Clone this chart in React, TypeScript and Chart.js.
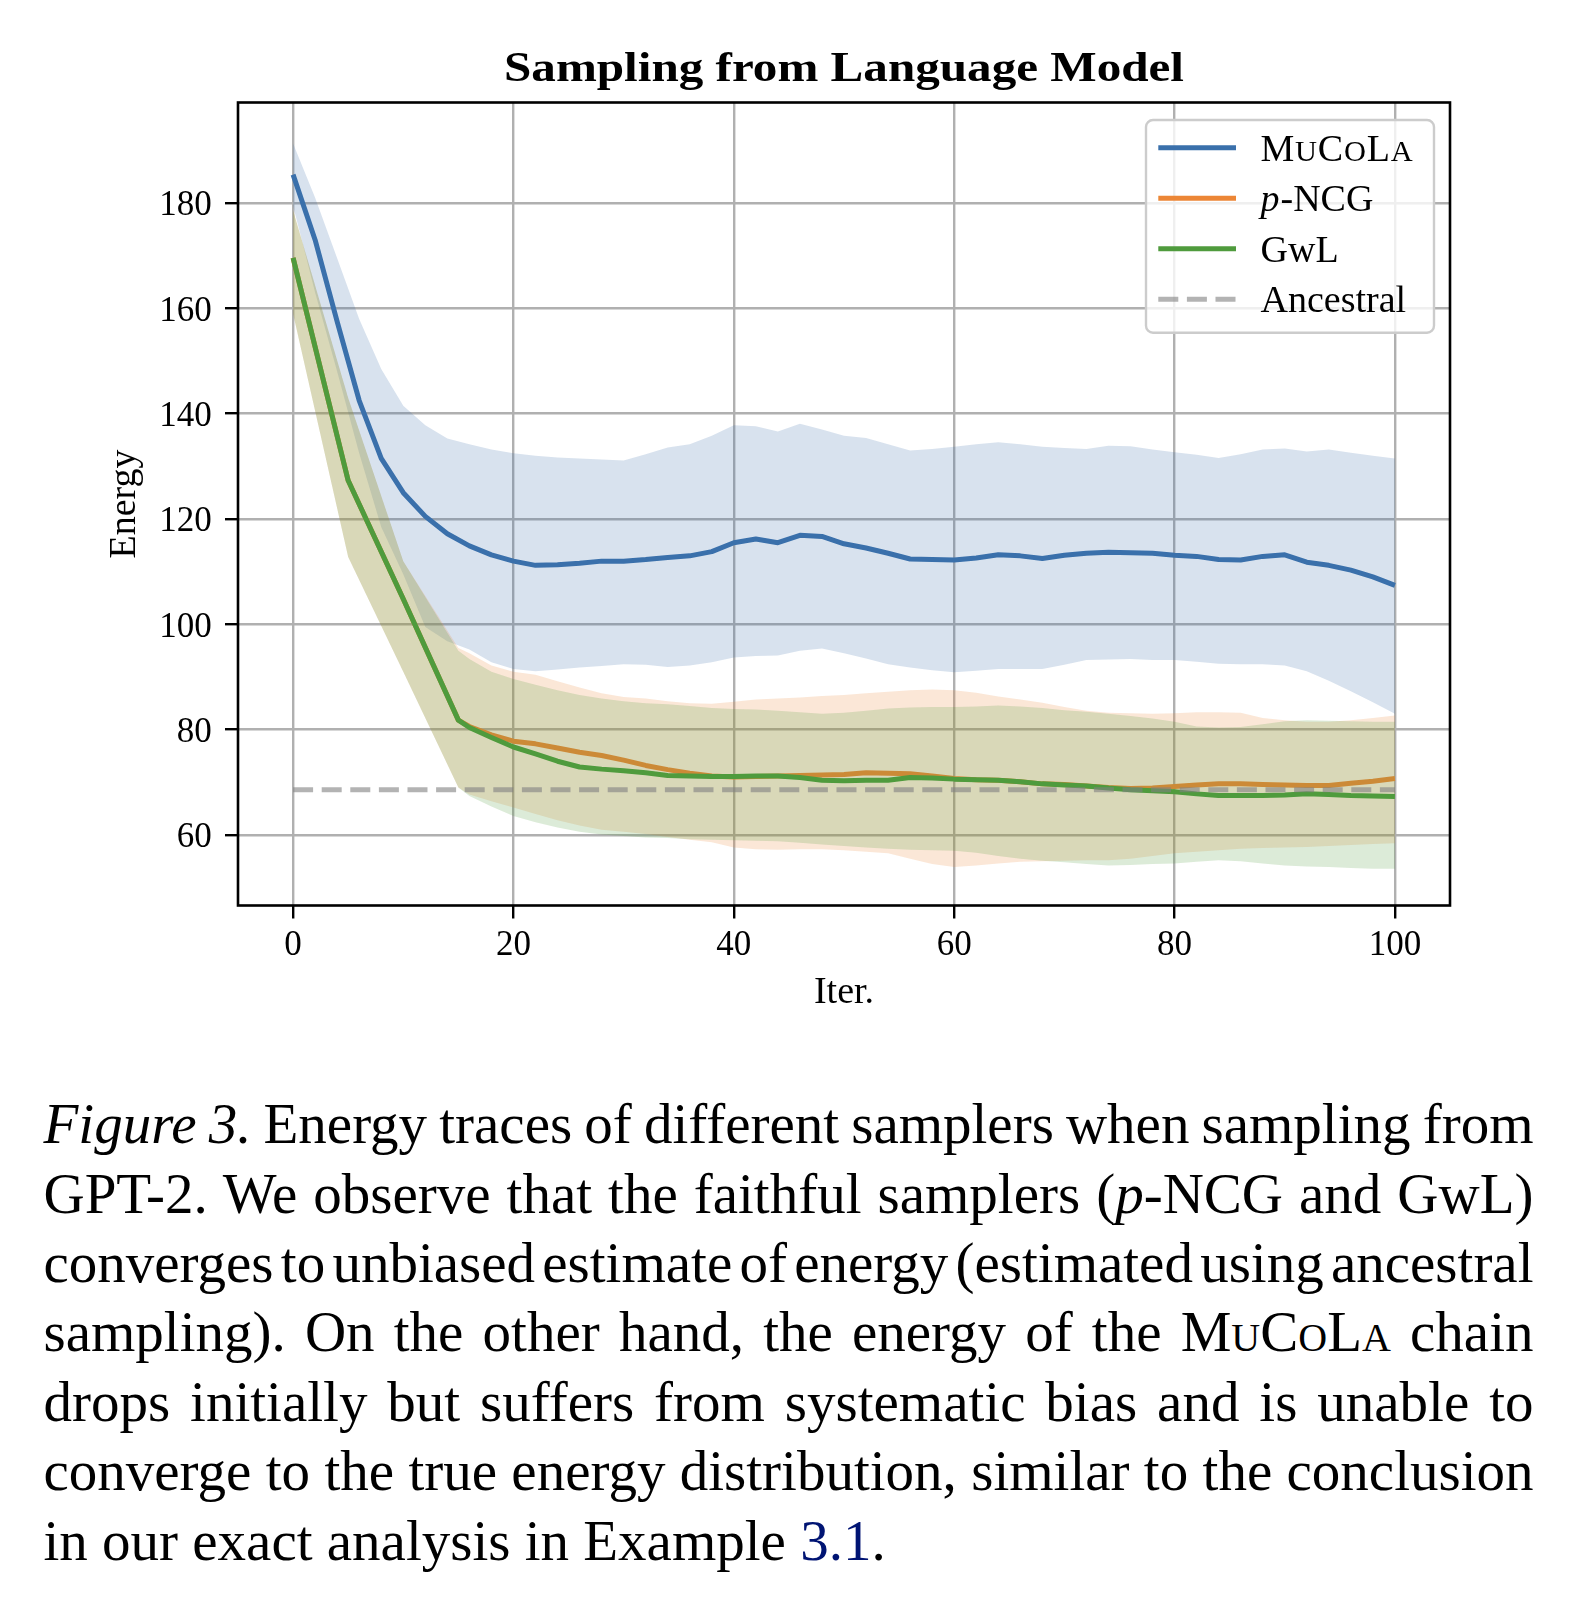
import React, { useEffect, useRef } from "react";
import { Chart, registerables } from "chart.js";

Chart.register(...registerables);

// ---------- text ----------
const CHART_TITLE = "Sampling from Language Model";
const X_LABEL = "Iter.";
const Y_LABEL = "Energy";
const SERIES_NAMES = ["MuCoLa", "p-NCG", "GwL", "Ancestral"];

// ---------- ticks ----------
const X_TICKS = [0, 20, 40, 60, 80, 100];
const Y_TICKS = [60, 80, 100, 120, 140, 160, 180];

// ---------- MuCoLa (mean and band) ----------
const ITERS_MUCOLA = [
  0, 2, 4, 6, 8, 10, 12, 14, 16, 18,
  20, 22, 24, 26, 28, 30, 32, 34, 36, 38,
  40, 42, 44, 46, 48, 50, 52, 54, 56, 58,
  60, 62, 64, 66, 68, 70, 72, 74, 76, 78,
  80, 82, 84, 86, 88, 90, 92, 94, 96, 98, 100,
];
const MUCOLA_MEAN = [
  185.4, 173, 157.5, 142.5, 131.5, 125, 120.5, 117.2, 114.9, 113.2,
  112, 111.2, 111.3, 111.6, 112, 112, 112.3, 112.7, 113, 113.8,
  115.5, 116.2, 115.5, 116.9, 116.7, 115.3, 114.5, 113.5, 112.4, 112.3,
  112.2, 112.6, 113.2, 113, 112.5, 113.1, 113.5, 113.7, 113.6, 113.5,
  113.1, 112.9, 112.3, 112.2, 112.9, 113.2, 111.8, 111.2, 110.3, 109, 107.4,
];
const MUCOLA_UPPER = [
  191.3, 181, 169.5, 158, 148.5, 141.5, 137.8, 135.3, 134.2, 133.2,
  132.5, 132, 131.7, 131.5, 131.3, 131.1, 132.3, 133.6, 134.2, 135.8,
  137.8, 137.6, 136.6, 138.1, 137, 135.8, 135.4, 134.2, 133, 133.3,
  133.7, 134.2, 134.6, 134.2, 133.7, 133.5, 133.3, 133.9, 133.8, 133.2,
  132.7, 132.2, 131.6, 132.3, 133.2, 133.4, 132.8, 133.2, 132.6, 132, 131.5,
];
const MUCOLA_LOWER = [
  179.5, 163, 148, 132.5, 118.5, 109.5, 99.5, 96.8, 95.2, 92.8,
  91.5, 91.1, 91.4, 91.8, 92.1, 92.4, 92.3, 91.9, 92.2, 92.8,
  93.7, 94, 94.1, 95, 95.4, 94.5, 93.5, 92.4, 91.8, 91.3,
  90.9, 91.2, 91.5, 91.5, 91.5, 92.3, 93.2, 93.3, 93.4, 93.2,
  93.2, 92.9, 92.5, 92.4, 92.4, 92.2, 91.1, 89.3, 87.3, 85.2, 83,
];

// ---------- p-NCG and GwL (mean and band) ----------
const ITERS_FAITHFUL = [
  0, 5, 10, 15, 16, 18,
  20, 22, 24, 26, 28, 30, 32, 34, 36, 38,
  40, 42, 44, 46, 48, 50, 52, 54, 56, 58,
  60, 62, 64, 66, 68, 70, 72, 74, 76, 78,
  80, 82, 84, 86, 88, 90, 92, 94, 96, 98, 100,
];
const PNCG_MEAN = [
  169.6, 127.3, 104.8, 81.8, 80.6, 79,
  77.8, 77.3, 76.5, 75.7, 75.1, 74.2, 73.2, 72.4, 71.7, 71.2,
  71, 71.1, 71.2, 71.3, 71.4, 71.5, 71.8, 71.7, 71.6, 71.2,
  70.7, 70.5, 70.4, 70.1, 69.7, 69.6, 69.3, 69, 68.8, 68.9,
  69.2, 69.5, 69.7, 69.7, 69.6, 69.5, 69.4, 69.4, 69.8, 70.2, 70.7,
];
const PNCG_UPPER = [
  178.6, 143, 112, 95.5, 94.5, 92.2,
  91, 90.4, 89.2, 88, 86.9, 86.2, 85.9, 85.4, 85, 84.9,
  85.3, 85.7, 85.9, 86.1, 86.4, 86.6, 86.9, 87.2, 87.5, 87.6,
  87.5, 87, 86.3, 85.7, 85.1, 84.3, 83.6, 83.2, 83.1, 83,
  83.1, 83.3, 83.3, 83.2, 82.2, 81.8, 81.5, 81.5, 81.8, 82.2, 82.7,
];
const PNCG_LOWER = [
  159, 112.8, 91, 69, 67.7, 66.4,
  65.2, 64, 62.8, 61.8, 61, 60.6, 60.2, 59.6, 59.1, 58.6,
  57.6, 57.3, 57.2, 57.3, 57.3, 57.1, 56.8, 56.5, 55.5, 54.5,
  53.9, 54.2, 54.6, 54.9, 55, 55.1, 55.2, 55.2, 55.5, 56,
  56.5, 56.8, 57.1, 57.4, 57.5, 57.6, 57.7, 57.9, 58.1, 58.3, 58.4,
];
const GWL_MEAN = [
  169.6, 127.3, 104.8, 81.8, 80.4, 78.5,
  76.7, 75.4, 74, 72.9, 72.5, 72.2, 71.8, 71.3, 71.2, 71.1,
  71.1, 71.2, 71.2, 70.9, 70.4, 70.3, 70.4, 70.4, 70.9, 70.8,
  70.6, 70.5, 70.4, 70.1, 69.7, 69.5, 69.3, 68.9, 68.6, 68.4,
  68.2, 67.8, 67.5, 67.5, 67.5, 67.6, 67.8, 67.7, 67.5, 67.4, 67.3,
];
const GWL_UPPER = [
  178.6, 143, 112, 95, 93.4, 91,
  89.6, 88.5, 87.5, 86.6, 85.9, 85.4, 85, 84.8, 84.5, 84.1,
  83.9, 83.8, 83.6, 83.3, 83, 83.2, 83.6, 84, 84.2, 84.3,
  84.3, 84.4, 84.6, 84.4, 84.1, 83.7, 83.4, 83, 82.6, 82.1,
  81.5, 80.6, 80.4, 80.5, 81, 81.6, 81.8, 81.7, 81.6, 81.5, 81.5,
];
const GWL_LOWER = [
  159, 112.8, 91, 69, 67.4, 65.4,
  63.6, 62.4, 61.4, 60.6, 60.1, 59.8, 59.5, 59.4, 59.2, 59.1,
  59, 58.9, 58.8, 58.5, 58.2, 57.9, 57.6, 57.4, 57.2, 57.1,
  57, 56.6, 56, 55.5, 55.1, 54.8, 54.5, 54.2, 54.3, 54.5,
  54.6, 54.9, 55.2, 55, 54.6, 54.2, 54, 53.9, 53.7, 53.6, 53.6,
];

// ---------- Ancestral reference ----------
const ANCESTRAL_ITERS = [0, 100];
const ANCESTRAL_ENERGY = [68.6, 68.6];

// ---------- styles ----------
const BLUE = "rgb(58,112,171)";
const BLUE_FILL = "rgba(58,112,171,0.2)";
const ORANGE = "rgb(236,134,54)";
const ORANGE_FILL = "rgba(236,134,54,0.2)";
const GREEN = "rgb(79,155,61)";
const GREEN_FILL = "rgba(79,155,61,0.2)";
const GRAY_DASH = "rgba(128,128,128,0.6)";
const SERIF = '"Liberation Serif", "Times New Roman", serif';

const pts = (xs: number[], ys: number[]) => xs.map((x, i) => ({ x, y: ys[i] }));

function bandDatasets(xs: number[], up: number[], lo: number[], fill: string, order: number) {
  const hidden = "rgba(0,0,0,0)";
  return [
    {
      data: pts(xs, up),
      borderColor: hidden,
      borderWidth: 0,
      backgroundColor: fill,
      fill: "+1",
      pointRadius: 0,
      order,
    },
    {
      data: pts(xs, lo),
      borderColor: hidden,
      borderWidth: 0,
      backgroundColor: hidden,
      fill: false,
      pointRadius: 0,
      order,
    },
  ];
}

function lineDataset(label: string, xs: number[], ys: number[], color: string, order: number) {
  return {
    label,
    data: pts(xs, ys),
    borderColor: color,
    backgroundColor: color,
    borderWidth: 5,
    borderJoinStyle: "round",
    fill: false,
    pointRadius: 0,
    tension: 0,
    order,
  };
}

// draw a word in small capitals (capitals full size, lower case as smaller capitals)
function drawSmallCaps(ctx: any, text: string, x: number, y: number, size: number) {
  let cx = x;
  for (const ch of text) {
    const isLower = ch !== ch.toUpperCase();
    ctx.font = `${isLower ? size * 0.8 : size}px ${SERIF}`;
    const g = ch.toUpperCase();
    ctx.fillText(g, cx, y);
    cx += ctx.measureText(g).width + 0.8;
  }
}

const decorPlugin = {
  id: "decor",
  afterDatasetsDraw(chart: any) {
    const { ctx, chartArea: a } = chart;
    ctx.save();
    ctx.strokeStyle = "#000";
    ctx.lineWidth = 2.6;
    ctx.strokeRect(a.left, a.top, a.right - a.left, a.bottom - a.top);
    ctx.restore();
  },
  afterDraw(chart: any) {
    const { ctx, chartArea: a } = chart;
    const cx = (a.left + a.right) / 2;
    const cy = (a.top + a.bottom) / 2;

    // title (wide bold serif)
    ctx.save();
    ctx.fillStyle = "#000";
    ctx.font = `bold 42px ${SERIF}`;
    ctx.textAlign = "center";
    ctx.textBaseline = "alphabetic";
    const tw = ctx.measureText(CHART_TITLE).width;
    ctx.translate(cx, a.top - 22);
    ctx.scale(680 / tw, 1);
    ctx.fillText(CHART_TITLE, 0, 0);
    ctx.restore();

    // axis labels
    ctx.save();
    ctx.fillStyle = "#000";
    ctx.font = `38px ${SERIF}`;
    ctx.textAlign = "center";
    ctx.textBaseline = "alphabetic";
    ctx.fillText(X_LABEL, cx, a.bottom + 97.8);
    ctx.translate(a.left - 103, cy);
    ctx.rotate(-Math.PI / 2);
    ctx.fillText(Y_LABEL, 0, 0);
    ctx.restore();

    // legend
    const colors = [BLUE, ORANGE, GREEN, GRAY_DASH];
    const bw = 288;
    const bh = 212.7;
    const bx = a.right - 16 - bw;
    const by = a.top + 17.5;
    ctx.save();
    ctx.beginPath();
    if (ctx.roundRect) ctx.roundRect(bx, by, bw, bh, 7);
    else ctx.rect(bx, by, bw, bh);
    ctx.fillStyle = "rgba(255,255,255,0.8)";
    ctx.fill();
    ctx.strokeStyle = "#cccccc";
    ctx.lineWidth = 2.4;
    ctx.stroke();
    SERIES_NAMES.forEach((name, i) => {
      const ly = by + 27.7 + i * 50.5;
      ctx.beginPath();
      ctx.strokeStyle = colors[i];
      ctx.lineWidth = 5;
      ctx.setLineDash(i === 3 ? [20, 8.6] : []);
      ctx.moveTo(bx + 12.3, ly);
      ctx.lineTo(bx + 90, ly);
      ctx.stroke();
      ctx.setLineDash([]);
      ctx.fillStyle = "#000";
      ctx.textAlign = "left";
      ctx.textBaseline = "alphabetic";
      const tx = bx + 114.5;
      const ty = ly + 13;
      if (name.startsWith("p-")) {
        ctx.font = `italic 38px ${SERIF}`;
        ctx.fillText("p", tx, ty);
        const pw = ctx.measureText("p").width;
        ctx.font = `38px ${SERIF}`;
        ctx.fillText(name.slice(1), tx + pw + 1, ty);
      } else if (i === 0) {
        drawSmallCaps(ctx, name, tx, ty, 38);
      } else {
        ctx.font = `38px ${SERIF}`;
        ctx.fillText(name, tx, ty);
      }
    });
    ctx.restore();
  },
};

function EnergyChart() {
  const ref = useRef<HTMLCanvasElement | null>(null);
  useEffect(() => {
    if (!ref.current) return;
    const tickFont = { family: SERIF, size: 35 };
    const grid = {
      color: "#b0b0b0",
      lineWidth: 2.4,
      drawTicks: true,
      tickLength: 13,
      tickColor: "#000",
      tickWidth: 2.4,
    };
    const chart = new Chart(ref.current, {
      type: "line",
      data: {
        datasets: [
          ...bandDatasets(ITERS_MUCOLA, MUCOLA_UPPER, MUCOLA_LOWER, BLUE_FILL, 10),
          lineDataset(SERIES_NAMES[0], ITERS_MUCOLA, MUCOLA_MEAN, BLUE, 9),
          ...bandDatasets(ITERS_FAITHFUL, PNCG_UPPER, PNCG_LOWER, ORANGE_FILL, 8),
          lineDataset(SERIES_NAMES[1], ITERS_FAITHFUL, PNCG_MEAN, ORANGE, 7),
          ...bandDatasets(ITERS_FAITHFUL, GWL_UPPER, GWL_LOWER, GREEN_FILL, 6),
          lineDataset(SERIES_NAMES[2], ITERS_FAITHFUL, GWL_MEAN, GREEN, 5),
          {
            ...lineDataset(SERIES_NAMES[3], ANCESTRAL_ITERS, ANCESTRAL_ENERGY, GRAY_DASH, 4),
            borderDash: [20, 8.6],
          },
        ] as any,
      },
      options: {
        animation: false,
        responsive: false,
        devicePixelRatio: 1,
        events: [],
        layout: { padding: { left: 0, right: 124, top: 94.5, bottom: 0 } },
        plugins: {
          legend: { display: false },
          tooltip: { enabled: false },
          title: { display: false },
        },
        scales: {
          x: {
            type: "linear",
            min: -5,
            max: 105,
            afterBuildTicks: (axis: any) => {
              axis.ticks = X_TICKS.map((v) => ({ value: v }));
            },
            afterFit: (axis: any) => {
              axis.height = 142.5;
            },
            grid,
            border: { display: false },
            ticks: {
              color: "#000",
              font: tickFont,
              padding: 6,
              maxRotation: 0,
              autoSkip: false,
              callback: (v: any) => String(v),
            },
          },
          y: {
            type: "linear",
            min: 46.6,
            max: 199.1,
            afterBuildTicks: (axis: any) => {
              axis.ticks = Y_TICKS.map((v) => ({ value: v }));
            },
            afterFit: (axis: any) => {
              axis.width = 230;
            },
            grid,
            border: { display: false },
            ticks: {
              color: "#000",
              font: tickFont,
              padding: 13.3,
              labelOffset: 3,
              autoSkip: false,
              callback: (v: any) => String(v),
            },
          },
        },
      } as any,
      plugins: [decorPlugin],
    });
    return () => chart.destroy();
  }, []);
  return (
    <canvas
      ref={ref}
      width={1566}
      height={1040}
      style={{ display: "block", width: 1566, height: 1040 }}
    />
  );
}

const just = (ws: number): React.CSSProperties => ({
  textAlign: "justify",
  textAlignLast: "justify" as any,
  wordSpacing: ws,
});

export default function App() {
  return (
    <div>
      <EnergyChart />
      <div
        style={{
          marginTop: 41.1,
          marginLeft: 35.5,
          width: 1490,
          fontFamily: SERIF,
          fontSize: 57,
          lineHeight: "69.4px",
          color: "#000",
        }}
      >
        <div style={just(-5.5)}>
          <i>Figure 3.</i> Energy traces of different samplers when sampling from
        </div>
        <div style={just(-1.5)}>
          GPT-2. We observe that the faithful samplers (<i>p</i>-NCG and GwL)
        </div>
        <div style={just(-9)}>
          converges to unbiased estimate of energy (estimated using ancestral
        </div>
        <div style={just(0)}>
          sampling). On the other hand, the energy of the{" "}
          <span style={{ fontVariant: "small-caps" }}>MuCoLa</span> chain
        </div>
        <div style={just(0)}>
          drops initially but suffers from systematic bias and is unable to
        </div>
        <div style={just(-2.5)}>
          converge to the true energy distribution, similar to the conclusion
        </div>
        <div style={{ textAlign: "left" }}>
          in our exact analysis in Example{" "}
          <span style={{ color: "rgb(0,20,115)" }}>3.1</span>.
        </div>
      </div>
    </div>
  );
}
